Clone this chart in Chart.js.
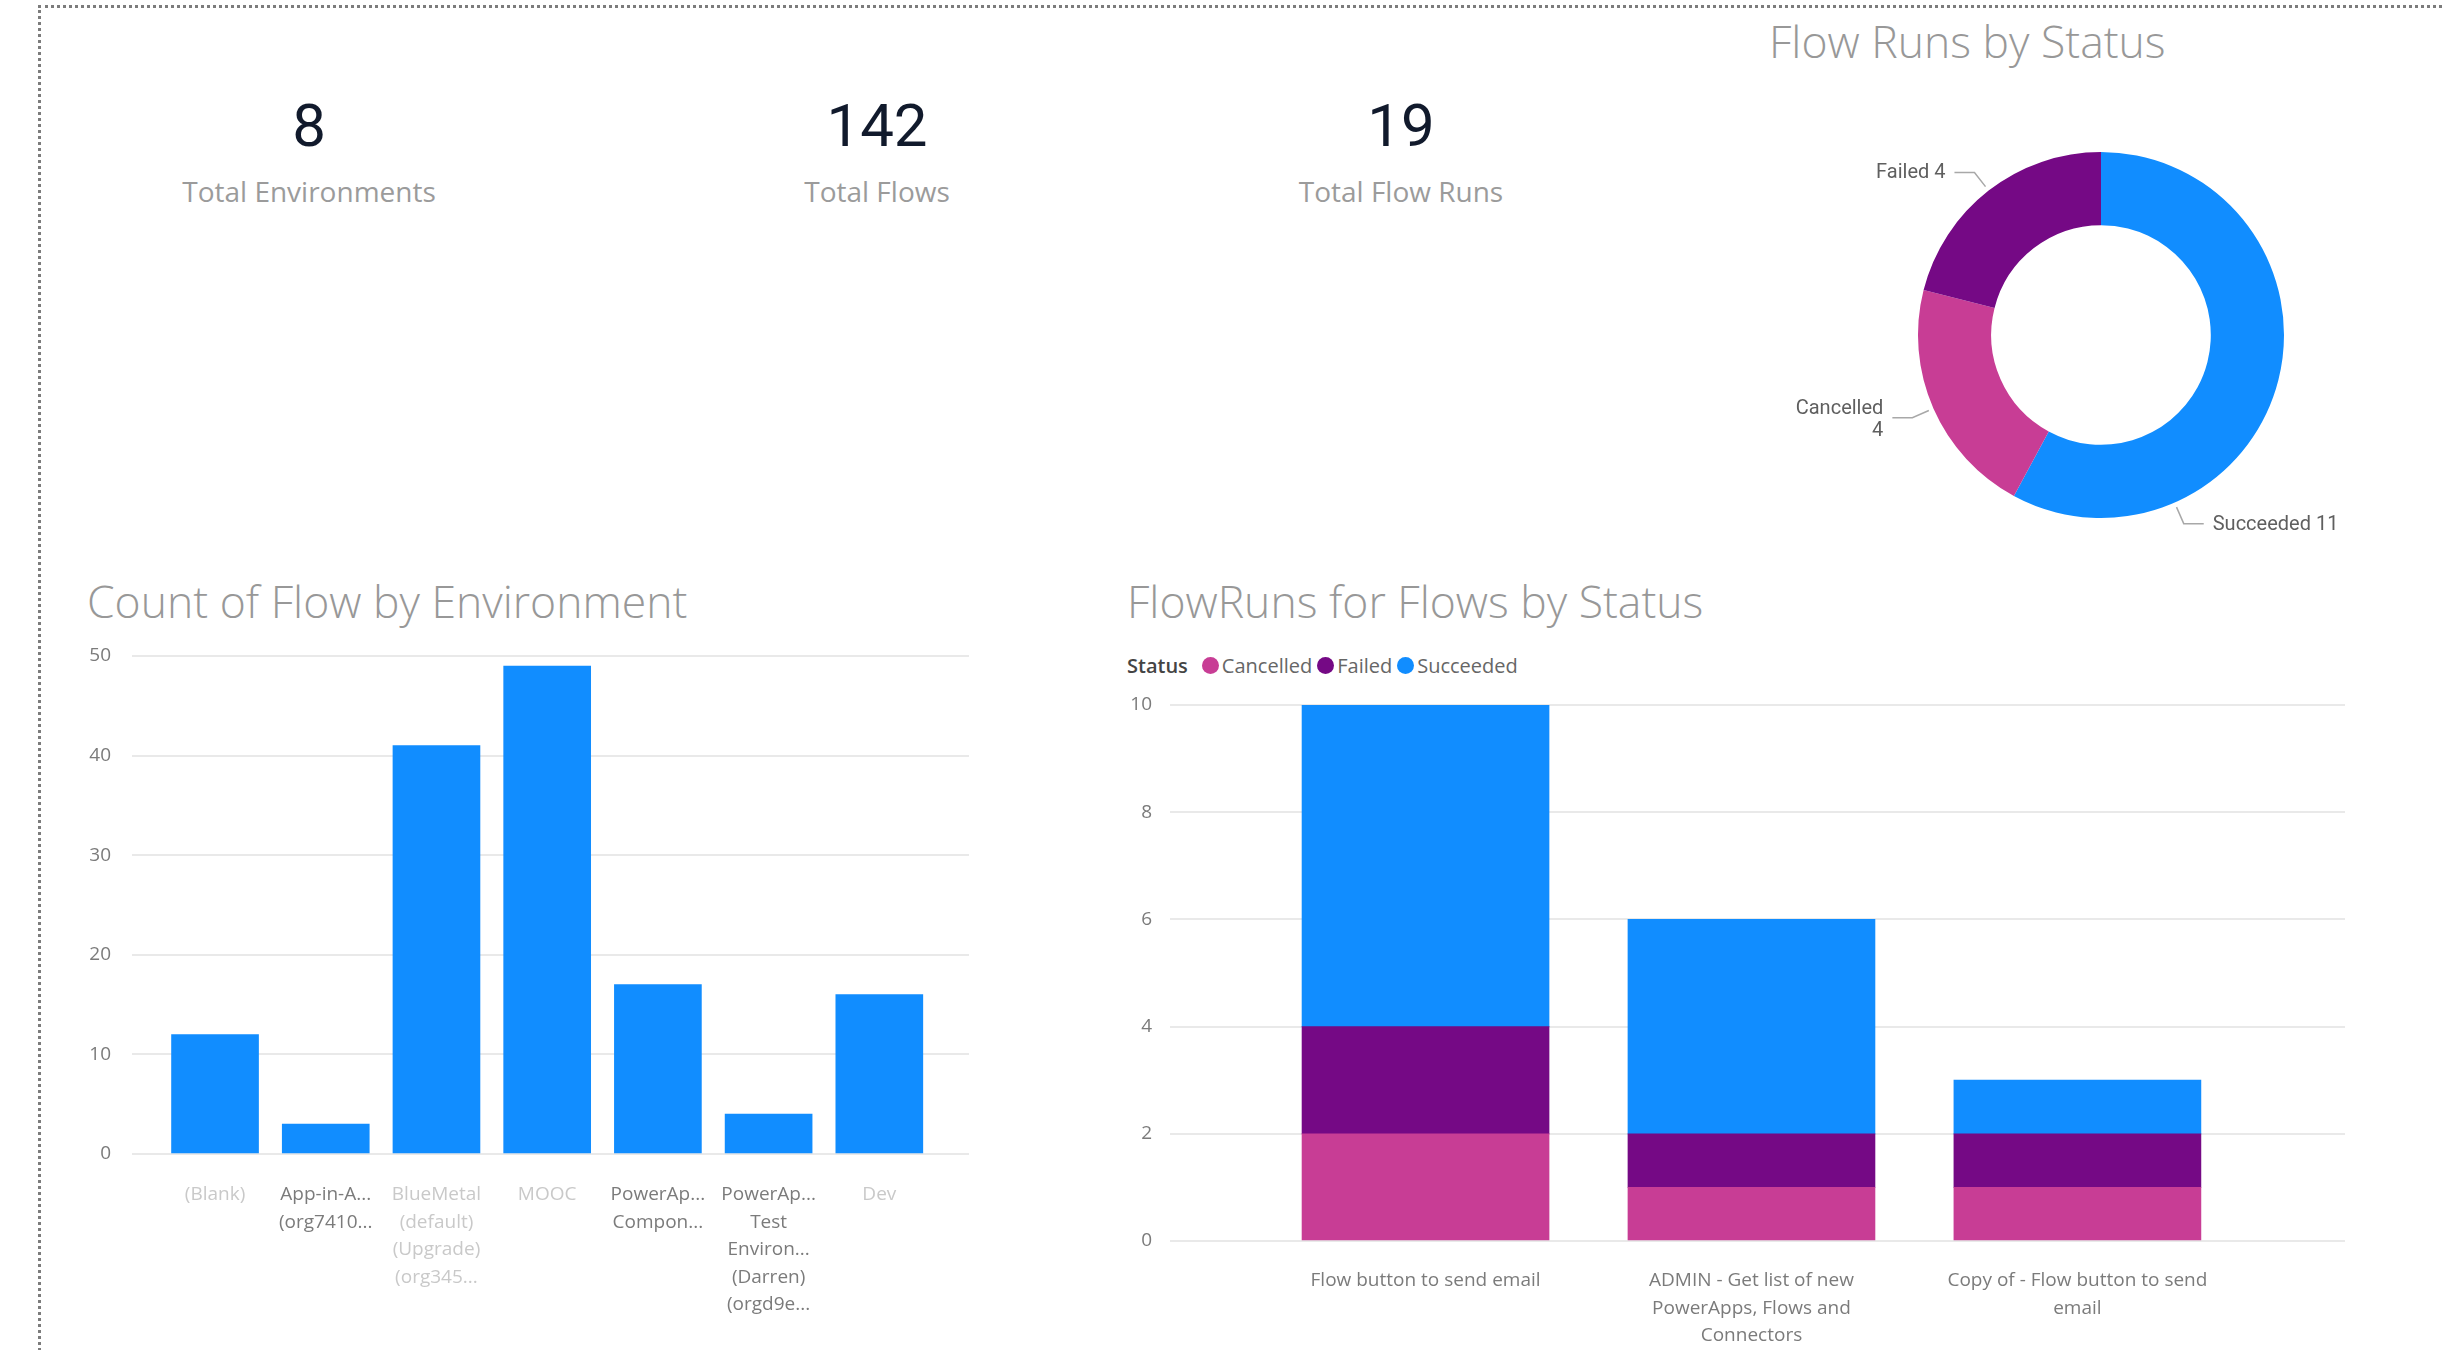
<!DOCTYPE html>
<html>
<head>
<meta charset="utf-8">
<title>Flow dashboard</title>
<script src="https://cdn.jsdelivr.net/npm/chart.js@4.4.1/dist/chart.umd.min.js"></script>
<style>
  html, body { margin: 0; padding: 0; background: #fff; }
  body { width: 2443px; height: 1350px; position: relative; overflow: hidden; font-family: "Open Sans", sans-serif; }
  .frame { position: absolute; left: 38px; top: 5px; width: 2420px; height: 1360px; border-top: 3px dotted #7c7c7c; border-left: 3px dotted #7c7c7c; }
  .kpi { position: absolute; width: 400px; text-align: center; }
  .kpi .num { font-family: Roboto, sans-serif; font-size: 60px; line-height: 60px; color: #111a2c; }
  .kpi .lbl { font-size: 28px; line-height: 28px; color: #9b9b9b; margin-top: 21px; }
  .title { position: absolute; font-size: 44.5px; line-height: 44px; font-weight: 300; color: #989898; white-space: nowrap; }
  .box { position: absolute; }
  #legend { position: absolute; left: 1127px; top: 651px; height: 28px; display: flex; align-items: center; font-size: 20px; color: #666; white-space: nowrap; }
  #legend b { color: #444; font-weight: 600; margin-right: 9px; }
  #legend .dot { display: inline-block; width: 17px; height: 17px; border-radius: 50%; margin: 0 3px 0 5px; }
</style>
</head>
<body>
<div class="frame"></div>

<div id="kpis"></div>

<div class="title" style="left:1769px; top:19px;">Flow Runs by Status</div>
<div class="title" style="left:87px; top:579px;">Count of Flow by Environment</div>
<div class="title" style="left:1127px; top:579px;">FlowRuns for Flows by Status</div>

<div id="legend"></div>

<div class="box" style="left:1760px; top:125px; width:682px; height:420px;"><canvas id="donutChart"></canvas></div>
<div class="box" style="left:60px; top:630px; width:940px; height:710px;"><canvas id="envChart"></canvas></div>
<div class="box" style="left:1080px; top:690px; width:1300px; height:660px;"><canvas id="runsChart"></canvas></div>

<script>
// card values
var kpiValues = [8, 142, 19];
var kpiLabels = ["Total Environments", "Total Flows", "Total Flow Runs"];

// donut
var statusNames = ["Succeeded", "Cancelled", "Failed"];
var statusRuns = [11, 4, 4];

// count of flow by environment
var envLabels = [
  ["(Blank)"],
  ["App-in-A...", "(org7410..."],
  ["BlueMetal", "(default)", "(Upgrade)", "(org345..."],
  ["MOOC"],
  ["PowerAp...", "Compon..."],
  ["PowerAp...", "Test", "Environ...", "(Darren)", "(orgd9e..."],
  ["Dev"]
];
var envFlowCounts = [12, 3, 41, 49, 17, 4, 16];

// flow runs by flow, stacked by status
var flowNames = [
  ["Flow button to send email"],
  ["ADMIN - Get list of new", "PowerApps, Flows and", "Connectors"],
  ["Copy of - Flow button to send", "email"]
];
var seriesNames = ["Cancelled", "Failed", "Succeeded"];
var cancelledRuns = [2, 1, 1];
var failedRuns = [2, 1, 1];
var succeededRuns = [6, 4, 1];

var statusColors = { Cancelled: "#C83D95", Failed: "#750985", Succeeded: "#118DFF" };
var blurred = [0, 2, 3, 6];

var tickFont = { family: "Open Sans", size: 19 };
var tickColor = "#7b7b7b";
var gridColor = "#E9E9E9";

Chart.defaults.font.family = "Open Sans";
Chart.defaults.animation = false;

// cards
var kpiLeft = [109, 677, 1201];
var kpiHtml = "";
for (var i = 0; i < kpiValues.length; i++) {
  kpiHtml += '<div class="kpi" style="left:' + kpiLeft[i] + 'px; top:96px;"><div class="num">' + kpiValues[i] +
    '</div><div class="lbl">' + kpiLabels[i] + '</div></div>';
}
document.getElementById("kpis").innerHTML = kpiHtml;

// legend for stacked chart
var legendHtml = "<b>Status</b>";
seriesNames.forEach(function (n) {
  legendHtml += '<span class="dot" style="background:' + statusColors[n] + '"></span>' + n;
});
document.getElementById("legend").innerHTML = legendHtml;

// outside labels with leader lines for the donut
var donutLabels = {
  id: "donutLabels",
  afterDatasetsDraw: function (chart, args, opts) {
    var ctx = chart.ctx;
    var meta = chart.getDatasetMeta(0);
    ctx.save();
    ctx.font = "20px Roboto";
    ctx.fillStyle = "#5f5f5f";
    ctx.strokeStyle = "#A8A8A8";
    ctx.lineWidth = 1.5;
    ctx.textBaseline = "middle";
    meta.data.forEach(function (arc, i) {
      var p = arc.getProps(["x", "y", "startAngle", "endAngle", "outerRadius"], true);
      var a = p.startAngle + (p.endAngle - p.startAngle) * opts.anchor[i];
      var c = Math.cos(a), s = Math.sin(a);
      var x0 = p.x + c * (p.outerRadius + 5), y0 = p.y + s * (p.outerRadius + 5);
      var x1 = x0 + c * 18, y1 = y0 + s * 18;
      var dir = c >= 0 ? 1 : -1;
      var x2 = x1 + dir * 20;
      ctx.beginPath();
      ctx.moveTo(x0, y0);
      ctx.lineTo(x1, y1);
      ctx.lineTo(x2, y1);
      ctx.stroke();
      ctx.textAlign = dir > 0 ? "left" : "right";
      var tx = x2 + dir * 9;
      var name = chart.data.labels[i], val = chart.data.datasets[0].data[i];
      if (opts.wrap[i]) {
        ctx.fillText(name, tx, y1 - 9);
        ctx.fillText(String(val), tx, y1 + 13);
      } else {
        ctx.fillText(name + " " + val, tx, y1 + 1);
      }
    });
    ctx.restore();
  }
};

var ctxD = document.getElementById("donutChart").getContext("2d");
var donut = new Chart(ctxD, {
  type: "doughnut",
  data: {
    labels: statusNames,
    datasets: [{
      data: statusRuns,
      backgroundColor: statusNames.map(function (n) { return statusColors[n]; }),
      borderWidth: 0
    }]
  },
  options: {
    responsive: true,
    maintainAspectRatio: false,
    radius: 183,
    cutout: "60%",
    plugins: {
      legend: { display: false },
      tooltip: { enabled: false },
      donutLabels: { anchor: [0.75, 0.5, 0.5], wrap: [false, true, false] }
    }
  },
  plugins: [donutLabels]
});

var ctxE = document.getElementById("envChart").getContext("2d");
var envChart = new Chart(ctxE, {
  type: "bar",
  data: {
    labels: envLabels,
    datasets: [{
      label: "Count of Flow",
      data: envFlowCounts,
      backgroundColor: "#118DFF",
      barThickness: 87
    }]
  },
  options: {
    responsive: true,
    maintainAspectRatio: false,
    layout: { padding: { top: 26, right: 31, left: 0, bottom: 0 } },
    plugins: { legend: { display: false }, tooltip: { enabled: false } },
    scales: {
      x: {
        grid: { display: false },
        border: { display: false },
        ticks: {
          autoSkip: false, maxRotation: 0, padding: 19,
          font: { family: "Open Sans", size: 19, lineHeight: 1.45 },
          color: function (c) { return blurred.indexOf(c.index) >= 0 ? "#c9c9c9" : tickColor; }
        },
        // power bi leaves extra room at both ends of the category axis
        afterBuildTicks: function (s) { s._startValue = -0.75; s._valueRange = 7.56; },
        afterFit: function (s) { s.height = 186; }
      },
      y: {
        min: 0, max: 50,
        grid: { color: gridColor, lineWidth: 2, drawTicks: false },
        border: { display: false },
        ticks: { stepSize: 10, padding: 21, font: tickFont, color: tickColor },
        afterFit: function (s) { s.width = 72; s.paddingTop = 0; s.paddingBottom = 0; }
      }
    }
  }
});

var ctxR = document.getElementById("runsChart").getContext("2d");
var runsChart = new Chart(ctxR, {
  type: "bar",
  data: {
    labels: flowNames,
    datasets: [
      { label: "Cancelled", data: cancelledRuns, backgroundColor: statusColors.Cancelled, barThickness: 247 },
      { label: "Failed", data: failedRuns, backgroundColor: statusColors.Failed, barThickness: 247 },
      { label: "Succeeded", data: succeededRuns, backgroundColor: statusColors.Succeeded, barThickness: 247 }
    ]
  },
  options: {
    responsive: true,
    maintainAspectRatio: false,
    layout: { padding: { top: 15, right: 35, left: 0, bottom: 0 } },
    plugins: { legend: { display: false }, tooltip: { enabled: false } },
    scales: {
      x: {
        stacked: true,
        grid: { display: false },
        border: { display: false },
        ticks: {
          autoSkip: false, maxRotation: 0, padding: 18,
          font: { family: "Open Sans", size: 19, lineHeight: 1.45 },
          color: tickColor
        },
        afterBuildTicks: function (s) { s._startValue = -0.784; s._valueRange = 3.605; },
        afterFit: function (s) { s.height = 109; }
      },
      y: {
        stacked: true,
        min: 0, max: 10,
        grid: { color: gridColor, lineWidth: 2, drawTicks: false },
        border: { display: false },
        ticks: { stepSize: 2, padding: 18, font: tickFont, color: tickColor },
        afterFit: function (s) { s.width = 90; s.paddingTop = 0; s.paddingBottom = 0; }
      }
    }
  }
});
</script>
</body>
</html>
